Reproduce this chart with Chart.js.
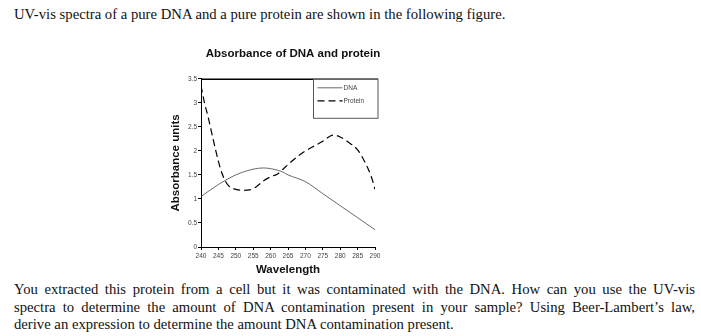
<!DOCTYPE html>
<html>
<head>
<meta charset="utf-8">
<script src="https://cdn.jsdelivr.net/npm/chart.js@4/dist/chart.umd.min.js"></script>
<style>
  html, body { margin: 0; padding: 0; background: #fff; }
  body { width: 701px; height: 336px; position: relative; overflow: hidden; }
  .para { position: absolute; left: 14px; font-family: "Liberation Serif", "Times New Roman", serif; color: #111; }
  #intro { top: 6px; font-size: 14.7px; white-space: nowrap; }
  #question { top: 281px; width: 681px; font-size: 14.7px; line-height: 17.5px; }
  #question div { text-align: justify; text-align-last: justify; white-space: nowrap; }
  #question div.last { text-align-last: left; }
  #chartBox { position: absolute; left: 150px; top: 40px; }
</style>
</head>
<body>
<div id="intro" class="para">UV-vis spectra of a pure DNA and a pure protein are shown in the following figure.</div>
<div id="chartBox"><canvas id="c" width="286" height="240"></canvas></div>
<div id="question" class="para">
  <div>You extracted this protein from a cell but it was contaminated with the DNA. How can you use the UV-vis</div>
  <div>spectra to determine the amount of DNA contamination present in your sample? Using Beer-Lambert’s law,</div>
  <div class="last">derive an expression to determine the amount DNA contamination present.</div>
</div>
<script>
// Absorbance spectra (wavelength in nm, absorbance in units)
const dnaWavelengths = [240, 245, 250, 255, 258, 260, 263, 265, 270, 275, 280, 285, 290];
const dnaAbsorbance  = [1.05, 1.30, 1.50, 1.62, 1.645, 1.63, 1.575, 1.50, 1.36, 1.11, 0.86, 0.61, 0.36];

const proteinWavelengths = [240, 241, 242, 243, 244, 245, 246, 247, 248, 250, 252, 254, 256, 258, 260, 262, 264, 266, 268, 270, 272, 275, 278, 280, 282, 285, 287, 289, 290];
const proteinAbsorbance  = [3.36, 3.0, 2.72, 2.4, 2.08, 1.78, 1.54, 1.37, 1.27, 1.20, 1.18, 1.19, 1.26, 1.38, 1.46, 1.52, 1.65, 1.78, 1.9, 2.0, 2.08, 2.2, 2.33, 2.29, 2.2, 2.02, 1.78, 1.45, 1.2];

const seriesNames = ['DNA', 'Protein'];
const xTicks = [240, 245, 250, 255, 260, 265, 270, 275, 280, 285, 290];
const xTickLabels = ['240', '245', '250', '255', '260', '265', '270', '275', '280', '285', '290'];
const yTicks = [0, 0.5, 1, 1.5, 2, 2.5, 3, 3.5];
const yTickLabels = ['0', '0.5', '1', '1.5', '2', '2.5', '3', '3.5'];

const toPoints = (xs, ys) => xs.map((x, i) => ({ x: x, y: ys[i] }));

const SANS = '"Liberation Sans", Arial, sans-serif';

// Boxed key in the upper right of the plot, plus the top frame line
const boxedKey = {
  id: 'boxedKey',
  afterDraw(chart) {
    const { ctx, chartArea } = chart;
    const right = chartArea.right + 3;
    ctx.save();
    ctx.strokeStyle = '#000';
    ctx.lineWidth = 1.5;
    ctx.beginPath();
    ctx.moveTo(chartArea.left, chartArea.top + 0.5);
    ctx.lineTo(right, chartArea.top + 0.5);
    ctx.stroke();
    const bx = chartArea.left + 112.5, by = chartArea.top + 0.5;
    const bw = right - bx, bh = 39;
    ctx.fillStyle = '#fff';
    ctx.fillRect(bx, by, bw, bh);
    ctx.strokeStyle = '#555';
    ctx.lineWidth = 1;
    ctx.strokeRect(bx, by, bw, bh);
    chart.data.datasets.forEach((ds, i) => {
      const y = by + 8.5 + i * 13;
      ctx.strokeStyle = ds.borderColor;
      ctx.lineWidth = ds.borderWidth;
      ctx.setLineDash(ds.borderDash || []);
      ctx.beginPath();
      ctx.moveTo(bx + 4, y);
      ctx.lineTo(bx + 29, y);
      ctx.stroke();
      ctx.setLineDash([]);
      ctx.fillStyle = '#444';
      ctx.font = '6.5px ' + SANS;
      ctx.textBaseline = 'middle';
      ctx.fillText(ds.label, bx + 30, y);
    });
    ctx.restore();
  }
};

new Chart(document.getElementById('c'), {
  type: 'line',
  data: {
    datasets: [
      {
        label: seriesNames[0],
        data: toPoints(dnaWavelengths, dnaAbsorbance),
        borderColor: '#444',
        borderWidth: 0.8,
        pointRadius: 0,
        cubicInterpolationMode: 'monotone',
        fill: false
      },
      {
        label: seriesNames[1],
        data: toPoints(proteinWavelengths, proteinAbsorbance),
        borderColor: '#000',
        borderWidth: 1.2,
        borderDash: [7, 4],
        pointRadius: 0,
        cubicInterpolationMode: 'monotone',
        fill: false
      }
    ]
  },
  options: {
    responsive: false,
    animation: false,
    layout: { padding: 0 },
    plugins: {
      legend: { display: false },
      tooltip: { enabled: false },
      title: {
        display: true,
        text: 'Absorbance of DNA and protein',
        color: '#111',
        font: { family: SANS, size: 11.5, weight: 'bold' },
        padding: { top: 7, bottom: 18 }
      }
    },
    scales: {
      x: {
        type: 'linear',
        min: xTicks[0],
        max: xTicks[xTicks.length - 1],
        afterFit(scale) { scale.height = 33; },
        afterBuildTicks(scale) { scale.ticks = xTicks.map(v => ({ value: v })); },
        grid: { display: true, drawOnChartArea: false, drawTicks: true, tickLength: 3, color: '#000' },
        border: { display: true, color: '#000', width: 1 },
        ticks: {
          color: '#444',
          font: { family: SANS, size: 6.5 },
          padding: 2,
          maxRotation: 0,
          callback: (v) => xTickLabels[xTicks.indexOf(v)]
        },
        title: {
          display: true,
          text: 'Wavelength',
          color: '#111',
          font: { family: SANS, size: 11.5, weight: 'bold' },
          padding: { top: 0, bottom: 3 }
        }
      },
      y: {
        min: yTicks[0],
        max: yTicks[yTicks.length - 1],
        afterFit(scale) { scale.width = 51; },
        afterBuildTicks(scale) { scale.ticks = yTicks.map(v => ({ value: v })); },
        grid: { display: true, drawOnChartArea: false, drawTicks: true, tickLength: 3, color: '#000' },
        border: { display: true, color: '#000', width: 1 },
        ticks: {
          color: '#444',
          font: { family: SANS, size: 6.5 },
          padding: 1,
          callback: (v) => yTickLabels[yTicks.indexOf(v)]
        },
        title: {
          display: true,
          text: 'Absorbance units',
          color: '#111',
          font: { family: SANS, size: 11.5, weight: 'bold' },
          padding: { top: 19, bottom: 0 }
        }
      },
      // empty right-hand margin so the chart title centres over the whole figure
      margin: {
        position: 'right',
        afterFit(scale) { scale.width = 61; },
        grid: { display: false },
        border: { display: false },
        ticks: { display: false },
        title: { display: false }
      }
    }
  },
  plugins: [boxedKey]
});
</script>
</body>
</html>
